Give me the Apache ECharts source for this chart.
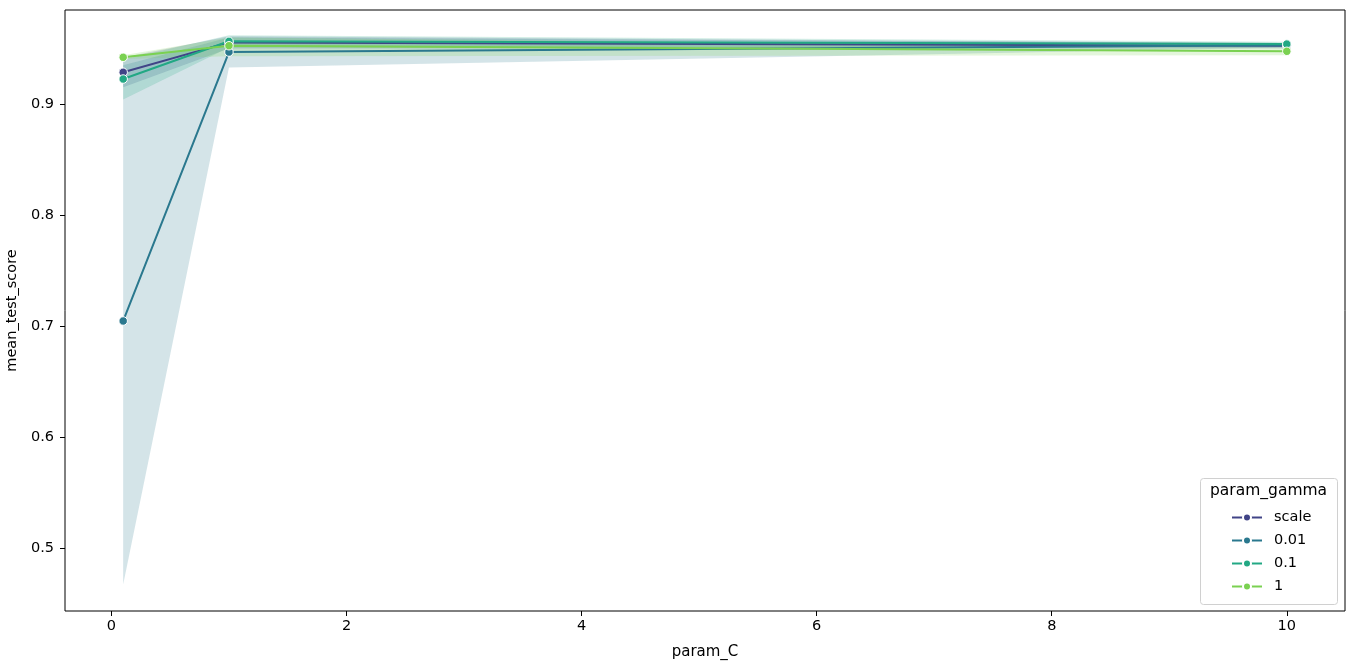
<!DOCTYPE html>
<html>
<head>
<meta charset="utf-8">
<script src="https://cdn.jsdelivr.net/npm/echarts@6/dist/echarts.min.js"></script>
<style>
html,body{margin:0;padding:0;background:#fff;}
#chart{width:1360px;height:668px;}
</style>
</head>
<body>
<div id="chart"></div>
<script>
// ---- data ----
const paramC = [0.1, 1, 10];
const gammaNames = ['scale', '0.01', '0.1', '1'];
const gammaColors = ['#414487', '#2a788e', '#22a884', '#7ad151'];

const meanScale = [0.9286, 0.9555, 0.9525];
const mean001   = [0.7045, 0.9468, 0.9530];
const mean01    = [0.9225, 0.9565, 0.9540];
const mean1     = [0.9421, 0.9525, 0.9475];

const loScale = [0.915, 0.950, 0.950];
const hiScale = [0.942, 0.961, 0.955];
const lo001   = [0.467, 0.933, 0.951];
const hi001   = [0.935, 0.960, 0.955];
const lo01    = [0.904, 0.951, 0.951];
const hi01    = [0.940, 0.962, 0.956];
const lo1     = [0.9405, 0.943, 0.944];
const hi1     = [0.944, 0.960, 0.951];

const xTicks = [0, 2, 4, 6, 8, 10];
const yTicks = [0.5, 0.6, 0.7, 0.8, 0.9];

// ---- build ----
const means = [meanScale, mean001, mean01, mean1];
const los = [loScale, lo001, lo01, lo1];
const his = [hiScale, hi001, hi01, hi1];
const FONT = 'DejaVu Sans';
const FS = 14.5;

const series = [];
for (let k = 0; k < 4; k++) {
  const rows = paramC.map((x, i) => [x, los[k][i], his[k][i]]);
  series.push({
    type: 'custom', name: 'band' + k, silent: true, z: 1,
    data: rows,
    encode: {x: 0, y: [1, 2]},
    renderItem: function (params, api) {
      if (params.dataIndex !== 0) return null;
      const pts = [];
      for (let i = 0; i < rows.length; i++) pts.push(api.coord([rows[i][0], rows[i][2]]));
      for (let i = rows.length - 1; i >= 0; i--) pts.push(api.coord([rows[i][0], rows[i][1]]));
      return {
        type: 'polygon',
        shape: {points: pts},
        style: {fill: gammaColors[k], opacity: 0.2, stroke: 'none'}
      };
    }
  });
}
for (let k = 0; k < 4; k++) {
  series.push({
    type: 'line', name: gammaNames[k],
    data: paramC.map((x, i) => [x, means[k][i]]),
    symbol: 'circle', symbolSize: 8.5,
    color: gammaColors[k],
    lineStyle: {width: 2, color: gammaColors[k]},
    itemStyle: {color: gammaColors[k], borderColor: '#fff', borderWidth: 1},
    z: 3
  });
}

const chart = echarts.init(document.getElementById('chart'));
chart.setOption({
  animation: false,
  textStyle: {fontFamily: FONT},
  grid: {left: 65, right: 15, top: 10, bottom: 57, containLabel: false, outerBoundsMode: 'none',
         show: true, borderColor: '#000', borderWidth: 1, backgroundColor: 'transparent'},
  xAxis: {
    type: 'value', min: -0.395, max: 10.495,
    name: 'param_C', nameLocation: 'middle', nameGap: 34,
    nameTextStyle: {fontFamily: FONT, fontSize: 15, color: '#000'},
    splitLine: {show: false},
    axisLine: {show: false, onZero: false},
    axisTick: {show: true, length: 5, inside: false, lineStyle: {color: '#000'}, customValues: xTicks},
    axisLabel: {fontFamily: FONT, fontSize: FS, color: '#000', margin: 8, customValues: xTicks,
      formatter: v => String(v)}
  },
  yAxis: {
    type: 'value', min: 0.4432, max: 0.9847,
    name: 'mean_test_score', nameLocation: 'middle', nameGap: 43,
    nameTextStyle: {fontFamily: FONT, fontSize: FS, color: '#000'},
    splitLine: {show: false},
    axisLine: {show: false, onZero: false},
    axisTick: {show: true, length: 5, lineStyle: {color: '#000'}, customValues: yTicks},
    axisLabel: {fontFamily: FONT, fontSize: FS, color: '#000', margin: 11, customValues: yTicks,
      formatter: v => v.toFixed(1)}
  },
  legend: {
    data: gammaNames,
    orient: 'vertical',
    left: 1226, top: 505,
    itemWidth: 30, itemHeight: 10, itemGap: 8,
    textStyle: {fontFamily: FONT, fontSize: FS, color: '#000', padding: [0, 0, 0, 7]},
    selectedMode: false
  },
  graphic: [
    {type: 'rect', left: 1200, top: 478, z: 0,
     shape: {width: 137, height: 126, r: 3},
     style: {fill: 'rgba(255,255,255,0.8)', stroke: '#d0d0d0', lineWidth: 1}},
    {type: 'text', left: 1210, top: 483, z: 10,
     style: {text: 'param_gamma', font: '15.5px "DejaVu Sans"', fill: '#000'}}
  ],
  series: series
});
</script>
</body>
</html>
